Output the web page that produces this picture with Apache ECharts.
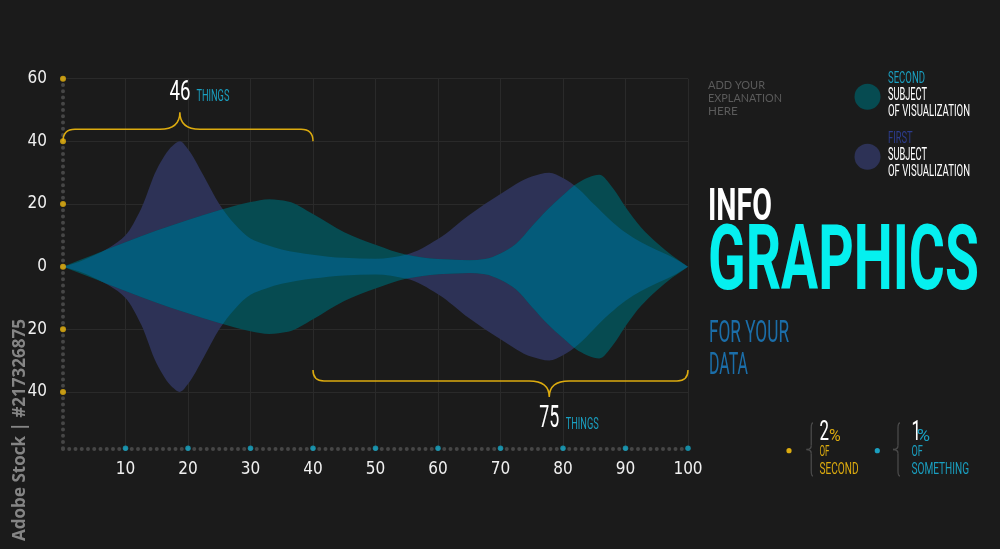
<!DOCTYPE html>
<html>
<head>
<meta charset="utf-8">
<script src="https://cdn.jsdelivr.net/npm/echarts@6/dist/echarts.min.js"></script>
<style>
html,body{margin:0;padding:0;background:#1b1b1b;}
#c{width:1000px;height:549px;}
</style>
</head>
<body>
<div id="c"></div>
<script>
// ---------------- DATA ----------------
// "FIRST subject of visualization" (half-width of the symmetric stream)
const firstX = [0, 2.5, 5, 7.5, 10, 12.5, 15, 17.5, 18.7, 20, 22.5, 25, 27.5, 30, 32.5, 35, 40, 45, 50, 55, 60, 65, 70, 75, 77.8, 80, 82.5, 85, 87.5, 90, 92.5, 95, 97.5, 100];
const firstY = [0, 1.5, 3.6, 6.2, 10.0, 18.5, 31.0, 38.5, 40.0, 37.5, 29.0, 20.0, 13.5, 9.0, 7.0, 5.5, 3.8, 2.8, 2.5, 3.9, 8.8, 16.5, 23.2, 28.8, 30.0, 28.3, 24.8, 19.8, 15.0, 10.9, 7.8, 5.3, 3.0, 0];
// "SECOND subject of visualization"
const secondX = [0, 5, 10, 15, 20, 25, 30, 33, 36, 40, 45, 50, 55, 60, 65, 67.5, 70, 72.5, 75, 77.5, 80, 82.5, 85.8, 88, 90, 92.5, 95, 97.5, 100];
const secondY = [0, 3.9, 7.8, 11.5, 14.9, 18.0, 20.6, 21.5, 20.8, 16.8, 11.0, 7.0, 3.8, 2.4, 2.0, 2.4, 4.2, 7.3, 12.8, 18.2, 22.8, 26.9, 29.3, 25.0, 19.0, 12.5, 7.6, 3.5, 0];

const xTicks = [10, 20, 30, 40, 50, 60, 70, 80, 90, 100];
const yTicks = [60, 40, 20, 0, -20, -40];
const yTickLabels = ['60', '40', '20', '0', '20', '40'];
const xMin = 0, xMax = 100, yMin = -58, yMax = 60;

// brace annotations: [from, to, pointer]
const braceSpans = [[0, 40, 18.7], [40, 100, 77.8]];
const braceCounts = ['46', '75'];
const braceUnit = 'THINGS';

const legendNames = ['SECOND', 'FIRST'];
const legendLines = ['SUBJECT', 'OF VISUALIZATION'];
const statValues = ['2', '1'];
const statLabels = [['OF', 'SECOND'], ['OF', 'SOMETHING']];

// ---------------- STYLE ----------------
const C_FIRST = '#2d3256', C_SECOND = '#064b51', C_OVERLAP = '#045b7a';
const C_GOLD = '#dcab0f', C_CYAN = '#1a9fc0', C_NAVY = '#2c3c8c';
const NARROW = "'Liberation Sans Narrow','DejaVu Sans Condensed',Roboto,sans-serif";
const COND = "Roboto,'Liberation Sans',sans-serif";
const CAP = 0.711;
const mctx = document.createElement('canvas').getContext('2d');

function txt(o) {
  const fs = o.capH / CAP;
  const font = (o.weight || 'normal') + ' ' + fs.toFixed(2) + 'px ' + (o.family || COND);
  let sx = o.scale;
  if (sx == null) {
    mctx.font = font;
    sx = o.w ? o.w / mctx.measureText(o.text).width : 1;
  }
  return {
    type: 'text', x: o.x, y: o.y, scaleX: sx, scaleY: 1, rotation: o.rotation || 0, silent: true, z: 10,
    style: { text: o.text, x: 0, y: 0, font: font, fill: o.color, align: o.align || 'left', verticalAlign: 'middle' }
  };
}

// monotone cubic path through pixel points (x monotone)
function curve(p) {
  const n = p.length, d = [], m = [];
  for (let i = 0; i < n - 1; i++) d.push((p[i + 1][1] - p[i][1]) / (p[i + 1][0] - p[i][0]));
  m[0] = d[0]; m[n - 1] = d[n - 2];
  for (let i = 1; i < n - 1; i++) {
    if (d[i - 1] * d[i] <= 0) m[i] = 0;
    else {
      const h0 = p[i][0] - p[i - 1][0], h1 = p[i + 1][0] - p[i][0];
      const w1 = 2 * h1 + h0, w2 = h1 + 2 * h0;
      m[i] = (w1 + w2) / (w1 / d[i - 1] + w2 / d[i]);
    }
  }
  let s = '';
  for (let i = 0; i < n - 1; i++) {
    const h = p[i + 1][0] - p[i][0];
    s += ' C' + (p[i][0] + h / 3).toFixed(2) + ' ' + (p[i][1] + m[i] * h / 3).toFixed(2) + ' ' +
      (p[i + 1][0] - h / 3).toFixed(2) + ' ' + (p[i + 1][1] - m[i + 1] * h / 3).toFixed(2) + ' ' +
      p[i + 1][0].toFixed(2) + ' ' + p[i + 1][1].toFixed(2);
  }
  return s;
}
function streamPath(xs, ys, api) {
  const up = xs.map((x, i) => api.coord([x, ys[i]]));
  const dn = xs.map((x, i) => api.coord([x, -ys[i]])).reverse();
  return 'M' + up[0][0].toFixed(2) + ' ' + up[0][1].toFixed(2) + curve(up) +
    ' L' + dn[0][0].toFixed(2) + ' ' + dn[0][1].toFixed(2) + curve(dn) + ' Z';
}

// brace layout per annotation (value-space base level, direction)
const BRACE_LAYOUT = [
  { base: 40, dir: -1, hook: 12, cusp: 17, numCap: 20, numW: 21, unitW: 33, labOff: -19.5 },
  { base: -33, dir: 1, hook: 11, cusp: 16, numCap: 22, numW: 20, unitW: 33, labOff: 22.5 }
];

const chart = echarts.init(document.getElementById('c'), null, { renderer: 'canvas' });

const graphics = [];
// explanation text
[['ADD YOUR', 85, 57], ['EXPLANATION', 97.8, 74], ['HERE', 111, 29.7]].forEach(t => {
  graphics.push(txt({ text: t[0], x: 708, y: t[1], capH: 8.7, w: t[2], color: '#5b5b5b', family: "Lato,'Open Sans',sans-serif" }));
});
// legend
const legendColors = [C_SECOND, C_FIRST];
const legendTitleColors = [C_CYAN, C_NAVY];
const legendTitleW = [37, 24.7];
[0, 1].forEach(i => {
  const cy = 96.7 + i * 60;
  graphics.push({ type: 'circle', silent: true, shape: { cx: 867.5, cy: cy, r: 13 }, style: { fill: legendColors[i] } });
  graphics.push(txt({ text: legendNames[i], x: 888, y: cy - 17.8, capH: 12.3, w: legendTitleW[i], color: legendTitleColors[i] }));
  graphics.push(txt({ text: legendLines[0], x: 888, y: cy - 1.4, capH: 12.5, w: 39, color: '#ffffff' }));
  graphics.push(txt({ text: legendLines[1], x: 888, y: cy + 15.3, capH: 12.3, w: 82, color: '#ffffff' }));
});
// titles
graphics.push(txt({ text: 'INFO', x: 708, y: 209.2, capH: 31.7, w: 64, color: '#ffffff', weight: 'bold' }));
graphics.push(txt({ text: 'GRAPHICS', x: 708, y: 267, capH: 64, w: 271, color: '#05f0ef', weight: 'bold' }));
graphics.push(txt({ text: 'FOR YOUR', x: 709, y: 334, capH: 22, w: 80, color: '#1b6ea9', weight: 'normal' }));
graphics.push(txt({ text: 'DATA', x: 709, y: 366, capH: 22, w: 39, color: '#1b6ea9', weight: 'normal' }));

// stats panel
function vBrace(x, yTop, yBot, tipX) {
  const mid = (yTop + yBot) / 2, xv = (x + tipX) / 2 + 1.5;
  const st = { stroke: '#4a4a4a', lineWidth: 1.3, fill: null };
  return [
    { type: 'bezierCurve', silent: true, shape: { x1: x, y1: yTop, cpx1: xv, cpy1: yTop, x2: xv, y2: yTop + 5 }, style: st },
    { type: 'line', silent: true, shape: { x1: xv, y1: yTop + 5, x2: xv, y2: mid - 4 }, style: st },
    { type: 'bezierCurve', silent: true, shape: { x1: xv, y1: mid - 4, cpx1: xv, cpy1: mid, x2: tipX, y2: mid }, style: st },
    { type: 'bezierCurve', silent: true, shape: { x1: tipX, y1: mid, cpx1: xv, cpy1: mid, x2: xv, y2: mid + 4 }, style: st },
    { type: 'line', silent: true, shape: { x1: xv, y1: mid + 4, x2: xv, y2: yBot - 5 }, style: st },
    { type: 'bezierCurve', silent: true, shape: { x1: xv, y1: yBot - 5, cpx1: xv, cpy1: yBot, x2: x, y2: yBot }, style: st }
  ];
}
const statColors = [C_GOLD, C_CYAN];
const statDotX = [789, 877.3];
const statBrace = [[813, 806.5], [900, 893]];
const statTextX = [819.5, 911.5];
const statPctX = [829, 916.7];
const statLabW = [[10, 39], [11.3, 57.6]];
let numScale = null;
[0, 1].forEach(i => {
  graphics.push({ type: 'circle', silent: true, shape: { cx: statDotX[i], cy: 450.7, r: 2.6 }, style: { fill: statColors[i] } });
  vBrace(statBrace[i][0], 423, 476, statBrace[i][1]).forEach(g => graphics.push(g));
  const numEl = txt({ text: statValues[i], x: statTextX[i], y: 432.7, capH: 20, w: i === 0 ? 9.5 : null, scale: i === 0 ? null : numScale, color: '#ffffff' });
  if (i === 0) numScale = numEl.scaleX;
  graphics.push(numEl);
  graphics.push(txt({ text: '%', x: statPctX[i], y: 436.7, capH: 12, w: i === 0 ? 11.7 : 13.3, color: statColors[i] }));
  graphics.push(txt({ text: statLabels[i][0], x: statTextX[i], y: 452.5, capH: 11, w: statLabW[i][0], color: statColors[i] }));
  graphics.push(txt({ text: statLabels[i][1], x: statTextX[i], y: 469.5, capH: 12, w: statLabW[i][1], color: statColors[i] }));
});
// vertical side text
graphics.push(txt({ text: 'Adobe Stock | #217326875', x: 20.5, y: 541, capH: 12, w: 222, color: '#858585', weight: 'bold', rotation: Math.PI / 2, family: "'Open Sans',Roboto,sans-serif" }));

const option = {
  backgroundColor: '#1b1b1b',
  animation: false,
  grid: { left: 63, right: 312, top: 78.7, bottom: 100.7, outerBoundsMode: 'none', containLabel: false },
  xAxis: {
    type: 'value', min: xMin, max: xMax,
    axisLine: { show: true, onZero: false, lineStyle: { color: '#464646', width: 4, type: [0, 6.25], cap: 'round' } },
    axisTick: { show: false, customValues: xTicks },
    axisLabel: { customValues: xTicks, color: '#f0f0f0', fontSize: 17, fontFamily: NARROW, margin: 13 },
    splitLine: { show: true, lineStyle: { color: '#2a2a2a', width: 1 } }
  },
  yAxis: {
    type: 'value', min: yMin, max: yMax,
    axisLine: { show: true, onZero: false, lineStyle: { color: '#464646', width: 4, type: [0, 6.264], cap: 'round' } },
    axisTick: { show: false, customValues: yTicks },
    axisLabel: {
      customValues: yTicks, color: '#f0f0f0', fontSize: 17, fontFamily: NARROW, margin: 16,
      formatter: v => { const k = yTicks.indexOf(v); return k >= 0 ? yTickLabels[k] : ''; }
    },
    splitLine: { show: true, lineStyle: { color: '#2a2a2a', width: 1 } }
  },
  graphic: { elements: graphics },
  series: [
    {
      name: 'streams', type: 'custom', coordinateSystem: 'cartesian2d', silent: true, z: 2,
      data: [[0, 0]],
      renderItem: function (params, api) {
        const P = streamPath(firstX, firstY, api);
        const T = streamPath(secondX, secondY, api);
        return {
          type: 'group', children: [
            { type: 'path', shape: { pathData: P }, style: { fill: C_FIRST, stroke: null } },
            { type: 'path', shape: { pathData: T }, style: { fill: C_SECOND, stroke: null } },
            { type: 'path', shape: { pathData: T }, style: { fill: C_OVERLAP, stroke: null }, clipPath: { type: 'path', shape: { pathData: P } } }
          ]
        };
      }
    },
    {
      name: 'braces', type: 'custom', coordinateSystem: 'cartesian2d', silent: true, z: 5,
      data: braceSpans.map((s, i) => [s[0], s[1], s[2], i]),
      renderItem: function (params, api) {
        const i = api.value(3), L = BRACE_LAYOUT[i];
        const a = api.coord([api.value(0), L.base]), b = api.coord([api.value(1), L.base]);
        const c = api.coord([api.value(2), L.base]);
        const yb = a[1], yh = yb + L.dir * L.hook, yc = yh + L.dir * L.cusp, r = L.hook, w = 20;
        const x0 = a[0], x1 = b[0], xc = c[0];
        const d = 'M' + x0 + ' ' + yb + ' Q' + x0 + ' ' + yh + ' ' + (x0 + r) + ' ' + yh +
          ' L' + (xc - w) + ' ' + yh + ' Q' + xc + ' ' + yh + ' ' + xc + ' ' + yc +
          ' Q' + xc + ' ' + yh + ' ' + (xc + w) + ' ' + yh +
          ' L' + (x1 - r) + ' ' + yh + ' Q' + x1 + ' ' + yh + ' ' + x1 + ' ' + yb;
        const ly = yc + L.labOff;
        const numBottom = ly + L.numCap / 2;
        return {
          type: 'group', children: [
            { type: 'path', shape: { pathData: d }, style: { fill: 'none', stroke: C_GOLD, lineWidth: 1.5 } },
            txt({ text: braceCounts[i], x: xc, y: ly, capH: L.numCap, w: L.numW, color: '#ffffff', align: 'center' }),
            txt({ text: braceUnit, x: xc + 16.5, y: numBottom - 5.85, capH: 11.7, w: L.unitW, color: C_CYAN })
          ]
        };
      }
    },
    {
      name: 'yTickDots', type: 'scatter', silent: true, clip: false, z: 6,
      symbolSize: 6, itemStyle: { color: '#e7b30d' },
      data: yTicks.map(v => [xMin, v])
    },
    {
      name: 'xTickDots', type: 'scatter', silent: true, clip: false, z: 6,
      symbolSize: 5.5, itemStyle: { color: '#14a6c6' },
      data: xTicks.map(u => [u, yMin])
    }
  ]
};
chart.setOption(option);
</script>
</body>
</html>
